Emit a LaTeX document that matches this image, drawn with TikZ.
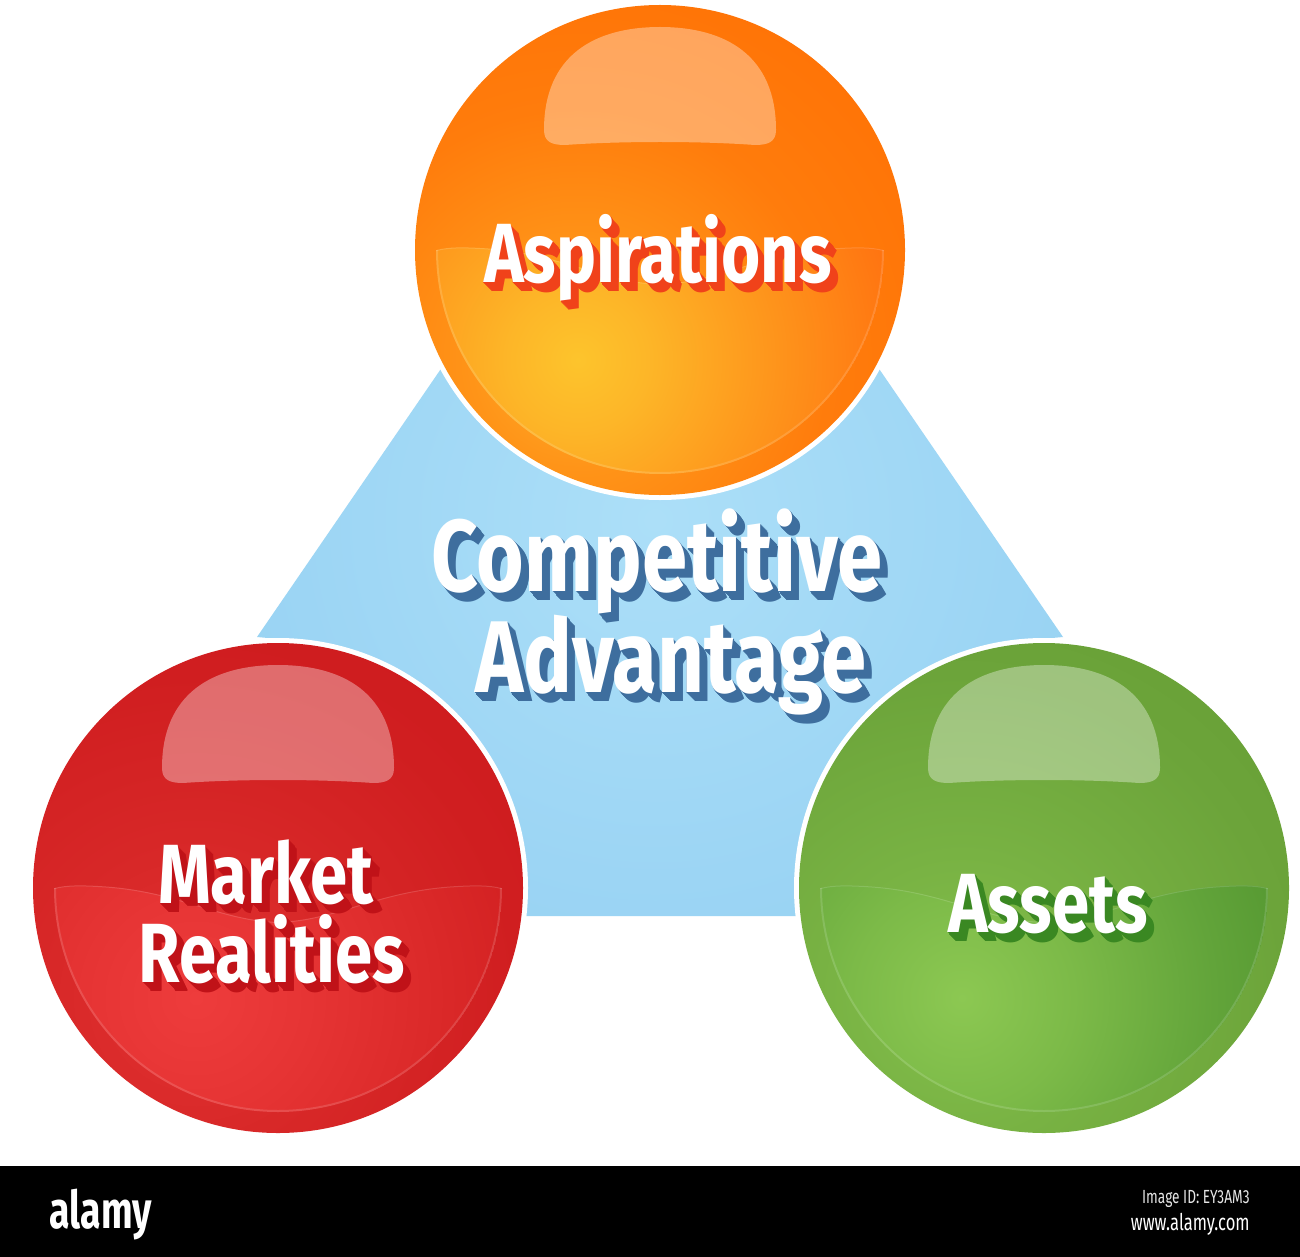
\documentclass[tikz,border=0pt]{standalone}
\usepackage{fontspec}
\setmainfont{Fira Sans}
\newfontfamily\lblfont[FakeStretch=0.8]{Fira Sans}
\newfontfamily\barfont[FakeStretch=0.72]{Fira Sans}

\definecolor{cwShadowO}{HTML}{F0421A}
\definecolor{cwShadowB}{HTML}{3E6E9E}
\definecolor{cwShadowR}{HTML}{C01218}
\definecolor{cwShadowG}{HTML}{3A8822}
\definecolor{cwBarText}{HTML}{E6E6E6}

\pgfdeclareradialshading{orangeBase}{\pgfpointorigin}{color(0bp)=(rgb,255:red,253;green,176;blue,42); color(6bp)=(rgb,255:red,255;green,148;blue,24); color(14bp)=(rgb,255:red,255;green,124;blue,12); color(25bp)=(rgb,255:red,255;green,112;blue,4); color(50bp)=(rgb,255:red,255;green,106;blue,0)}
\pgfdeclareradialshading{orangeGlow}{\pgfpointorigin}{color(0bp)=(rgb,255:red,253;green,196;blue,44); color(5bp)=(rgb,255:red,253;green,182;blue,40); color(12bp)=(rgb,255:red,254;green,156;blue,30); color(22bp)=(rgb,255:red,255;green,120;blue,18); color(32bp)=(rgb,255:red,255;green,86;blue,10); color(50bp)=(rgb,255:red,255;green,72;blue,8)}
\pgfdeclareradialshading{redBase}{\pgfpointorigin}{color(0bp)=(rgb,255:red,226;green,50;blue,50); color(8bp)=(rgb,255:red,216;green,40;blue,40); color(18bp)=(rgb,255:red,208;green,30;blue,32); color(30bp)=(rgb,255:red,204;green,24;blue,28); color(50bp)=(rgb,255:red,200;green,22;blue,26)}
\pgfdeclareradialshading{redGlow}{\pgfpointorigin}{color(0bp)=(rgb,255:red,238;green,60;blue,60); color(8bp)=(rgb,255:red,230;green,52;blue,52); color(18bp)=(rgb,255:red,218;green,40;blue,40); color(30bp)=(rgb,255:red,204;green,26;blue,28); color(50bp)=(rgb,255:red,192;green,18;blue,22)}
\pgfdeclareradialshading{greenBase}{\pgfpointorigin}{color(0bp)=(rgb,255:red,132;green,191;blue,76); color(8bp)=(rgb,255:red,120;green,178;blue,67); color(18bp)=(rgb,255:red,108;green,164;blue,58); color(30bp)=(rgb,255:red,100;green,156;blue,50); color(50bp)=(rgb,255:red,94;green,150;blue,46)}
\pgfdeclareradialshading{greenGlow}{\pgfpointorigin}{color(0bp)=(rgb,255:red,140;green,200;blue,82); color(8bp)=(rgb,255:red,124;green,186;blue,72); color(18bp)=(rgb,255:red,98;green,164;blue,58); color(30bp)=(rgb,255:red,74;green,142;blue,42); color(50bp)=(rgb,255:red,58;green,128;blue,30)}
\pgfdeclareradialshading{blueGlow}{\pgfpointorigin}{color(0bp)=(rgb,255:red,172;green,223;blue,248); color(15bp)=(rgb,255:red,156;green,213;blue,244); color(35bp)=(rgb,255:red,139;green,201;blue,238); color(50bp)=(rgb,255:red,132;green,196;blue,236)}

\tikzset{
  lbl/.style={text=white, inner sep=0pt, anchor=base},
  hilite/.style={fill=white, fill opacity=0.35},
  glowedge/.style={draw=white, draw opacity=0.14, line width=1pt},
}

% glossy ball: #1 name, #2 centre, #3 base shading, #4 glow shading
\newcommand\glossyball[4]{%
  \begin{scope}[shift={(#2)}]
    \coordinate (#1) at (0,0);
    \fill[white] (0,0) circle[radius=250];
    \begin{scope}
      \clip (0,0) circle[radius=245];
      \shade[shading=#3] (-82,110) circle[radius=450];
      \begin{scope}
        \clip (0,0) circle[radius=224];
        \clip (-240,60) -- (-240,20) .. controls (-240,-2) and (-215,-4) .. (-180,-2)
          .. controls (-100,2) and (-60,32) .. (0,34)
          .. controls (60,32) and (100,2) .. (180,-2)
          .. controls (215,-4) and (240,-2) .. (240,20) -- (240,300) -- (-240,300) -- cycle;
        \shade[shading=#4] (-82,110) circle[radius=350];
        \draw[glowedge] (-240,60) -- (-240,20) .. controls (-240,-2) and (-215,-4) .. (-180,-2)
          .. controls (-100,2) and (-60,32) .. (0,34)
          .. controls (60,32) and (100,2) .. (180,-2)
          .. controls (215,-4) and (240,-2) .. (240,20) -- (240,300);
        \draw[glowedge] (0,0) circle[radius=223];
      \end{scope}
      \fill[hilite] (-116,-120) .. controls (-116,-195) and (-65,-223) .. (0,-223)
        .. controls (65,-223) and (116,-195) .. (116,-120)
        .. controls (116,-108) and (108,-105) .. (95,-105)
        .. controls (40,-109) and (-40,-109) .. (-95,-105)
        .. controls (-108,-105) and (-116,-108) .. (-116,-120) -- cycle;
    \end{scope}
  \end{scope}}

% extruded label: #1 name, #2 x, #3 y (baseline), #4 size, #5 shadow colour, #6 text
\newcommand\extlabel[6]{%
  \foreach \k in {9,8,...,1}{%
    \node[lbl, text=#5, font=\lblfont\bfseries\fontsize{#4}{#4}\selectfont,
          xshift=\k*0.45pt, yshift=-\k*0.55pt] (#1s\k) at (#2,#3) {#6};}
  \node[lbl, font=\lblfont\bfseries\fontsize{#4}{#4}\selectfont] (#1) at (#2,#3) {#6};}

\begin{document}
\begin{tikzpicture}[x=0.5pt,y=-0.5pt]
\useasboundingbox (0,0) rectangle (1300,1257);
\fill[white] (0,0) rectangle (1300,1257);

% central blue shape
\begin{scope}
  \clip (447,360) -- (873,360) -- (1063,637) -- (1030,640) -- (1030,916)
        -- (290,916) -- (290,640) -- (257,637) -- cycle;
  \shade[shading=blueGlow] (655,520) circle[radius=600];
\end{scope}

\glossyball{asp}{660,250}{orangeBase}{orangeGlow}
\glossyball{mkt}{278,888}{redBase}{redGlow}
\glossyball{ast}{1044,888}{greenBase}{greenGlow}

\extlabel{aspT}{658}{282}{42}{cwShadowO}{Aspirations}
\extlabel{cmpT}{657}{591}{51}{cwShadowB}{Competitive}
\extlabel{advT}{671}{692}{51}{cwShadowB}{Advantage}
\extlabel{mktT}{266}{903}{42}{cwShadowR}{Market}
\extlabel{relT}{272}{982}{42}{cwShadowR}{Realities}
\extlabel{astT}{1048}{932}{42}{cwShadowG}{Assets}

% bottom bar
\fill[black] (0,1166) rectangle (1300,1257);
\node[lbl, font=\barfont\bfseries\fontsize{26}{26}\selectfont] (brand) at (101,1228) {alamy};
\node[inner sep=0pt, anchor=base east, text=cwBarText, font=\barfont\fontsize{9.5}{10}\selectfont] (imgid) at (1250,1203) {Image ID: EY3AM3};
\node[inner sep=0pt, anchor=base east, text=white, font=\barfont\fontsize{11.5}{12}\selectfont] (www) at (1250,1230) {www.alamy.com};
\end{tikzpicture}
\end{document}
